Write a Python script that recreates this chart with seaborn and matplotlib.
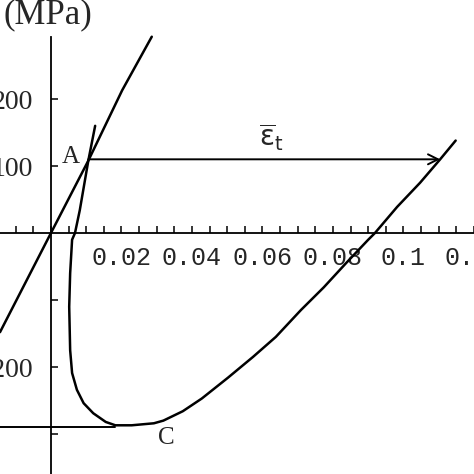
import matplotlib
matplotlib.use("Agg")
import matplotlib.pyplot as plt
import seaborn as sns
import pandas as pd

# elastic line through the origin and A
elastic_strain = [-0.01445, 0.0, 0.0106, 0.0202, 0.0286]
elastic_stress = [-148, 0, 108, 213, 293]

# steep branch + loop through C and back up past the arrow tip
loop_strain = [0.01254, 0.0106, 0.00818, 0.00682, 0.0060, 0.00545, 0.00518,
               0.00545, 0.0060, 0.00736, 0.00927, 0.0120, 0.01554, 0.01827,
               0.0229, 0.0292, 0.0319, 0.0374, 0.0428, 0.0502, 0.0573, 0.0638,
               0.0709, 0.0774, 0.0837, 0.0900, 0.0919, 0.0982, 0.1047, 0.1104,
               0.1148]
loop_stress = [160, 108, 34, 0, -10, -60, -110,
               -175, -209, -234, -254, -269, -282, -287,
               -287, -284, -280, -266, -247, -216, -185, -155,
               -115, -81, -45, -10, 0, 39, 75, 110,
               138]

# horizontal level at C
c_level_strain = [-0.01445, 0.0183]
c_level_stress = [-290, -290]

point_A = (0.0106, 110)
arrow_end = (0.1104, 110)
point_C = (0.0327, -306)

x_ticks = [0.02, 0.04, 0.06, 0.08, 0.10, 0.12]
x_labels = ["0.02", "0.04", "0.06", "0.08", "0.1", "0.12"]
y_ticks = [-300, -200, -100, 100, 200]
y_labels = ["", "-200", "", "100", "200"]

sns.set_theme(style="white")
plt.rcParams["font.family"] = ["Liberation Serif", "DejaVu Serif"]
plt.rcParams["mathtext.fontset"] = "custom"
plt.rcParams["mathtext.rm"] = "DejaVu Sans"

fig = plt.figure(figsize=(4.74, 4.74), dpi=100)
ax = fig.add_axes([0, 0, 1, 1])

df_el = pd.DataFrame({"strain": elastic_strain, "stress": elastic_stress})
df_loop = pd.DataFrame({"strain": loop_strain, "stress": loop_stress})
df_c = pd.DataFrame({"strain": c_level_strain, "stress": c_level_stress})
for d in (df_el, df_loop):
    sns.lineplot(data=d, x="strain", y="stress", sort=False, color="black",
                 lw=1.8, ax=ax, estimator=None)
sns.lineplot(data=df_c, x="strain", y="stress", sort=False, color="black",
             lw=1.4, ax=ax, estimator=None)

ax.annotate("", xy=arrow_end, xytext=point_A,
            arrowprops=dict(arrowstyle="->", lw=1.4, color="black",
                            shrinkA=0, shrinkB=0, mutation_scale=18))

ax.set_xlim(-0.01445, 0.1148)
ax.set_ylim(-359.7, 347.8)

for s in ("top", "right"):
    ax.spines[s].set_visible(False)
ax.spines["left"].set_position(("data", 0))
ax.spines["bottom"].set_position(("data", 0))
ax.spines["left"].set_bounds(-400, 292)
for s in ("left", "bottom"):
    ax.spines[s].set_color("black")
    ax.spines[s].set_linewidth(1.3)

ax.set_xticks(x_ticks)
ax.set_xticklabels(x_labels, family="Liberation Mono", fontsize=18)
ax.set_xticks([i * 0.005 for i in range(-2, 24)], minor=True)
ax.set_yticks(y_ticks)
ax.set_yticklabels(y_labels, fontsize=20)
ax.tick_params(axis="both", which="both", direction="in", length=5,
               width=1.1, color="black", bottom=True, left=True)
ax.tick_params(axis="x", which="major", pad=9)
ax.tick_params(axis="y", which="major", pad=13)
ax.set_xlabel("")
ax.set_ylabel("")

ax.text(0.0118, 326, "(MPa)", fontsize=25, ha="right", va="center")
ax.text(0.0055, 113, "A", fontsize=18, ha="center", va="center")
ax.text(point_C[0], point_C[1], "C", fontsize=18, ha="center", va="center")
ax.text(0.0625, 143, r"$\overline{\mathrm{\varepsilon}}_{\mathrm{t}}$",
        fontsize=20, ha="center", va="center")

fig.savefig("out.png", dpi=100)
